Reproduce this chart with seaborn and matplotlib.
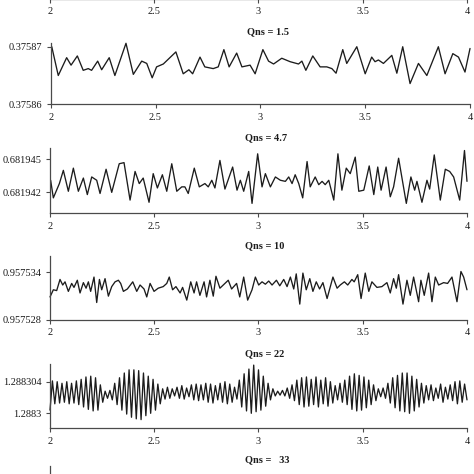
import numpy as np
import pandas as pd
import seaborn as sns
import matplotlib.pyplot as plt

# --- x axis (time) ---
x_ticks = [2, 2.5, 3, 3.5, 4]
x_labels = ["2", "2.5", "3", "3.5", "4"]

# --- Qns = 1.5 ---
q15_t = [2.005, 2.036, 2.076, 2.097, 2.127, 2.155, 2.179, 2.195, 2.224, 2.243,
         2.279, 2.306, 2.359, 2.394, 2.434, 2.458, 2.484, 2.505, 2.537, 2.597,
         2.632, 2.659, 2.677, 2.712, 2.735, 2.775, 2.799, 2.826, 2.851, 2.887,
         2.912, 2.951, 2.975, 3.012, 3.039, 3.063, 3.102, 3.142, 3.182, 3.198,
         3.217, 3.250, 3.285, 3.317, 3.341, 3.361, 3.393, 3.412, 3.460, 3.500,
         3.531, 3.547, 3.563, 3.587, 3.627, 3.651, 3.679, 3.714, 3.754, 3.794,
         3.849, 3.881, 3.918, 3.945, 3.976, 4.000]
q15_v = [0.3758700, 0.3758650, 0.3758681, 0.3758668, 0.3758684, 0.3758659, 0.3758662, 0.3758659, 0.3758675, 0.3758660,
         0.3758681, 0.3758650, 0.3758706, 0.3758652, 0.3758675, 0.3758671, 0.3758646, 0.3758665, 0.3758670, 0.3758691,
         0.3758653, 0.3758660, 0.3758653, 0.3758682, 0.3758665, 0.3758662, 0.3758665, 0.3758695, 0.3758665, 0.3758689,
         0.3758665, 0.3758668, 0.3758653, 0.3758695, 0.3758675, 0.3758670, 0.3758680, 0.3758674, 0.3758670, 0.3758675,
         0.3758659, 0.3758684, 0.3758665, 0.3758665, 0.3758662, 0.3758654, 0.3758695, 0.3758671, 0.3758700, 0.3758653,
         0.3758682, 0.3758674, 0.3758677, 0.3758671, 0.3758685, 0.3758654, 0.3758700, 0.3758636, 0.3758671, 0.3758650,
         0.3758700, 0.3758653, 0.3758688, 0.3758682, 0.3758656, 0.3758697]

# --- Qns = 4.7 ---
q47_t = [2.003, 2.016, 2.045, 2.064, 2.088, 2.112, 2.136, 2.160, 2.179, 2.200,
         2.224, 2.240, 2.269, 2.296, 2.332, 2.355, 2.384, 2.408, 2.428, 2.447,
         2.475, 2.495, 2.515, 2.539, 2.560, 2.584, 2.608, 2.632, 2.647, 2.663,
         2.692, 2.716, 2.743, 2.759, 2.776, 2.791, 2.815, 2.839, 2.876, 2.897,
         2.913, 2.929, 2.953, 2.969, 2.996, 3.017, 3.033, 3.057, 3.081, 3.105,
         3.129, 3.145, 3.161, 3.176, 3.193, 3.212, 3.233, 3.248, 3.272, 3.289,
         3.305, 3.320, 3.337, 3.361, 3.381, 3.400, 3.421, 3.440, 3.464, 3.481,
         3.505, 3.531, 3.553, 3.572, 3.588, 3.612, 3.632, 3.648, 3.672, 3.709,
         3.731, 3.749, 3.760, 3.784, 3.808, 3.821, 3.843, 3.872, 3.896, 3.917,
         3.936, 3.965, 3.988, 4.000]
q47_v = [0.6819431, 0.6819415, 0.6819428, 0.6819440, 0.6819421, 0.6819442, 0.6819421, 0.6819433, 0.6819418, 0.6819434,
         0.6819431, 0.6819419, 0.6819441, 0.6819420, 0.6819446, 0.6819447, 0.6819413, 0.6819439, 0.6819428, 0.6819433,
         0.6819411, 0.6819437, 0.6819424, 0.6819436, 0.6819421, 0.6819446, 0.6819421, 0.6819425, 0.6819425, 0.6819419,
         0.6819442, 0.6819425, 0.6819428, 0.6819425, 0.6819431, 0.6819424, 0.6819449, 0.6819423, 0.6819443, 0.6819422,
         0.6819431, 0.6819421, 0.6819439, 0.6819410, 0.6819455, 0.6819425, 0.6819437, 0.6819425, 0.6819434, 0.6819431,
         0.6819430, 0.6819434, 0.6819428, 0.6819436, 0.6819428, 0.6819415, 0.6819448, 0.6819425, 0.6819434, 0.6819427,
         0.6819430, 0.6819427, 0.6819431, 0.6819413, 0.6819455, 0.6819422, 0.6819442, 0.6819437, 0.6819452, 0.6819421,
         0.6819422, 0.6819444, 0.6819418, 0.6819443, 0.6819422, 0.6819443, 0.6819416, 0.6819425, 0.6819451, 0.6819410,
         0.6819434, 0.6819422, 0.6819430, 0.6819411, 0.6819431, 0.6819423, 0.6819454, 0.6819413, 0.6819441, 0.6819439,
         0.6819434, 0.6819413, 0.6819458, 0.6819430]

# --- Qns = 10 ---
q10_t = [2.000, 2.016, 2.032, 2.048, 2.061, 2.072, 2.088, 2.104, 2.115, 2.131,
         2.144, 2.160, 2.173, 2.184, 2.195, 2.211, 2.224, 2.237, 2.248, 2.264,
         2.280, 2.296, 2.312, 2.328, 2.339, 2.352, 2.371, 2.397, 2.416, 2.432,
         2.451, 2.464, 2.480, 2.499, 2.519, 2.543, 2.560, 2.572, 2.588, 2.604,
         2.624, 2.636, 2.656, 2.675, 2.691, 2.703, 2.719, 2.739, 2.751, 2.767,
         2.783, 2.796, 2.815, 2.831, 2.855, 2.871, 2.895,
         2.910, 2.929, 2.948, 2.969, 2.985, 3.001, 3.017, 3.033, 3.049, 3.065,
         3.086, 3.102, 3.121, 3.137, 3.153, 3.169, 3.181, 3.198, 3.213, 3.229,
         3.246, 3.261, 3.277, 3.293, 3.309, 3.329, 3.357, 3.377, 3.392, 3.412,
         3.428, 3.448, 3.459, 3.476, 3.492, 3.512, 3.529, 3.544, 3.568, 3.592,
         3.616, 3.632, 3.648, 3.661, 3.672, 3.693, 3.712, 3.728, 3.744, 3.768,
         3.779, 3.795, 3.816, 3.832, 3.848, 3.864, 3.888, 3.907, 3.928, 3.952,
         3.971, 3.984, 4.000]
q10_v = [0.9575309, 0.9575318, 0.9575317, 0.9575331, 0.9575324, 0.9575328, 0.9575316, 0.9575326, 0.9575321, 0.9575330,
         0.9575314, 0.9575327, 0.9575320, 0.9575328, 0.9575316, 0.9575334, 0.9575302, 0.9575331, 0.9575318, 0.9575332,
         0.9575310, 0.9575322, 0.9575328, 0.9575330, 0.9575326, 0.9575316, 0.9575319, 0.9575328, 0.9575316, 0.9575324,
         0.9575319, 0.9575309, 0.9575326, 0.9575316, 0.9575320, 0.9575322, 0.9575326, 0.9575334, 0.9575318, 0.9575322,
         0.9575314, 0.9575321, 0.9575305, 0.9575328, 0.9575314, 0.9575328, 0.9575311, 0.9575328, 0.9575309, 0.9575330,
         0.9575310, 0.9575335, 0.9575320, 0.9575324, 0.9575330, 0.9575319, 0.9575326,
         0.9575309, 0.9575334, 0.9575305, 0.9575318, 0.9575334, 0.9575324, 0.9575328, 0.9575325, 0.9575329, 0.9575324,
         0.9575330, 0.9575323, 0.9575331, 0.9575322, 0.9575334, 0.9575319, 0.9575338, 0.9575300, 0.9575339, 0.9575318,
         0.9575332, 0.9575316, 0.9575328, 0.9575319, 0.9575327, 0.9575307, 0.9575334, 0.9575320, 0.9575324, 0.9575328,
         0.9575324, 0.9575331, 0.9575328, 0.9575337, 0.9575307, 0.9575339, 0.9575316, 0.9575328, 0.9575321, 0.9575322,
         0.9575327, 0.9575314, 0.9575332, 0.9575320, 0.9575337, 0.9575300, 0.9575330, 0.9575311, 0.9575334, 0.9575303,
         0.9575330, 0.9575311, 0.9575339, 0.9575303, 0.9575334, 0.9575324, 0.9575327, 0.9575326, 0.9575334, 0.9575303,
         0.9575341, 0.9575334, 0.9575318]

# --- Qns = 22 (fast oscillation: start value, then one crest and one trough per cycle) ---
q22_start = 1.2883004
q22_peaks = [1.2883041, 1.2883040, 1.2883038, 1.2883040, 1.2883038, 1.2883041, 1.2883043, 1.2883046, 1.2883047, 1.2883045,
             1.2883036, 1.2883028, 1.2883029, 1.2883038, 1.2883045, 1.2883051, 1.2883055, 1.2883055, 1.2883054, 1.2883051,
             1.2883047, 1.2883043, 1.2883037, 1.2883031, 1.2883033, 1.2883031, 1.2883033, 1.2883035, 1.2883032, 1.2883036,
             1.2883037, 1.2883036, 1.2883038, 1.2883037, 1.2883035, 1.2883038, 1.2883040, 1.2883037, 1.2883033, 1.2883042,
             1.2883050, 1.2883056, 1.2883061, 1.2883055, 1.2883047, 1.2883038, 1.2883031, 1.2883028, 1.2883029, 1.2883032,
             1.2883036, 1.2883042, 1.2883045, 1.2883046, 1.2883043, 1.2883046, 1.2883042, 1.2883045, 1.2883040, 1.2883035,
             1.2883038, 1.2883042, 1.2883047, 1.2883050, 1.2883048, 1.2883046, 1.2883042, 1.2883036, 1.2883031, 1.2883032,
             1.2883038, 1.2883045, 1.2883048, 1.2883051, 1.2883051, 1.2883047, 1.2883043, 1.2883038, 1.2883035, 1.2883036,
             1.2883032, 1.2883037, 1.2883033, 1.2883036, 1.2883040, 1.2883041, 1.2883037]
q22_troughs = [1.2883012, 1.2883013, 1.2883014, 1.2883012, 1.2883013, 1.2883011, 1.2883008, 1.2883005, 1.2883003, 1.2883004,
               1.2883014, 1.2883019, 1.2883017, 1.2883011, 1.2883004, 1.2882999, 1.2882995, 1.2882993, 1.2882992, 1.2882997,
               1.2883000, 1.2883004, 1.2883012, 1.2883018, 1.2883019, 1.2883022, 1.2883019, 1.2883018, 1.2883021, 1.2883017,
               1.2883016, 1.2883017, 1.2883014, 1.2883013, 1.2883017, 1.2883014, 1.2883012, 1.2883014, 1.2883018, 1.2883008,
               1.2883003, 1.2883000, 1.2883002, 1.2883004, 1.2883009, 1.2883017, 1.2883022, 1.2883023, 1.2883022, 1.2883019,
               1.2883016, 1.2883011, 1.2883008, 1.2883009, 1.2883011, 1.2883008, 1.2883012, 1.2883009, 1.2883013, 1.2883017,
               1.2883014, 1.2883011, 1.2883005, 1.2883003, 1.2883004, 1.2883007, 1.2883011, 1.2883016, 1.2883021, 1.2883019,
               1.2883013, 1.2883007, 1.2883003, 1.2883002, 1.2883000, 1.2883003, 1.2883008, 1.2883013, 1.2883017, 1.2883016,
               1.2883019, 1.2883014, 1.2883018, 1.2883016, 1.2883012, 1.2883014, 1.2883017]

q22_v = np.concatenate([[q22_start], np.column_stack([q22_peaks, q22_troughs]).ravel()])
q22_t = np.linspace(2, 4, len(q22_v))

INK = "#1c1c1c"
AXIS = "#4a4a4a"

sns.set_theme(style="ticks")
plt.rcParams["font.family"] = ["Liberation Serif", "DejaVu Serif"]

fig = plt.figure(figsize=(4.74, 4.74), dpi=100)

panels = [
    # title, t, v, rect, ylim, yticks, ylabels
    ("Qns = 1.5", q15_t, q15_v, [0.107, 0.780, 0.8846, 0.1299],
     (0.37586, 0.3758707), [0.37586, 0.37587], ["0.37586", "0.37587"]),
    ("Qns = 4.7", q47_t, q47_v, [0.1055, 0.550, 0.8797, 0.1371],
     (0.6819401, 0.681946), [0.681942, 0.681945], ["0.681942", "0.681945"]),
    ("Qns = 10", q10_t, q10_v, [0.1055, 0.3249, 0.8797, 0.1342],
     (0.957528, 0.957536), [0.957528, 0.957534], ["0.957528", "0.957534"]),
    ("Qns = 22", q22_t, q22_v, [0.1055, 0.0964, 0.8797, 0.1350],
     (1.2882981, 1.2883062), [1.2883, 1.288304], ["1.2883", "1.288304"]),
]


def style_axis(ax):
    sns.despine(ax=ax)
    for side in ("left", "bottom"):
        ax.spines[side].set_color(AXIS)
        ax.spines[side].set_linewidth(0.9)
    ax.tick_params(direction="out", length=3, width=0.8, colors=AXIS,
                   labelcolor=INK, labelsize=7.5, pad=3)
    ax.grid(False)
    ax.set_facecolor("none")


def add_title(ax, text, pad):
    ax.annotate(text, xy=(0.468, 1), xycoords="axes fraction",
                xytext=(0, pad), textcoords="offset points",
                ha="left", va="baseline", fontsize=7.5,
                fontweight="bold", color=INK)


for title, t, v, rect, ylim, yticks, ylabels in panels:
    ax = fig.add_axes(rect)
    df = pd.DataFrame({"t": t, "v": v})
    sns.lineplot(data=df, x="t", y="v", ax=ax, color=INK, linewidth=0.95,
                 estimator=None, sort=False)
    line = ax.lines[-1]
    line.set_clip_on(False)
    line.set_solid_joinstyle("round")
    ax.set_xlim(2, 4)
    ax.set_ylim(*ylim)
    ax.set_xticks(x_ticks, x_labels)
    ax.set_yticks(yticks, ylabels)
    ax.set_xlabel("")
    ax.set_ylabel("")
    style_axis(ax)
    add_title(ax, title, 6)

# bottom axis of the panel above (cut off at the top edge)
ax_top = fig.add_axes([0.1055, 1.002, 0.8797, 0.2])
ax_top.set_xlim(2, 4)
ax_top.set_xticks(x_ticks, x_labels)
ax_top.set_yticks([])
style_axis(ax_top)

# next panel (Qns = 33), only its title and top of the spine visible
ax_bot = fig.add_axes([0.1055, -0.2, 0.8797, 0.2169])
ax_bot.set_xlim(2, 4)
ax_bot.set_xticks([])
ax_bot.set_yticks([])
style_axis(ax_bot)
ax_bot.spines["bottom"].set_visible(False)
add_title(ax_bot, "Qns =   33", 3)

fig.savefig("out.png", dpi=100, facecolor="white")
